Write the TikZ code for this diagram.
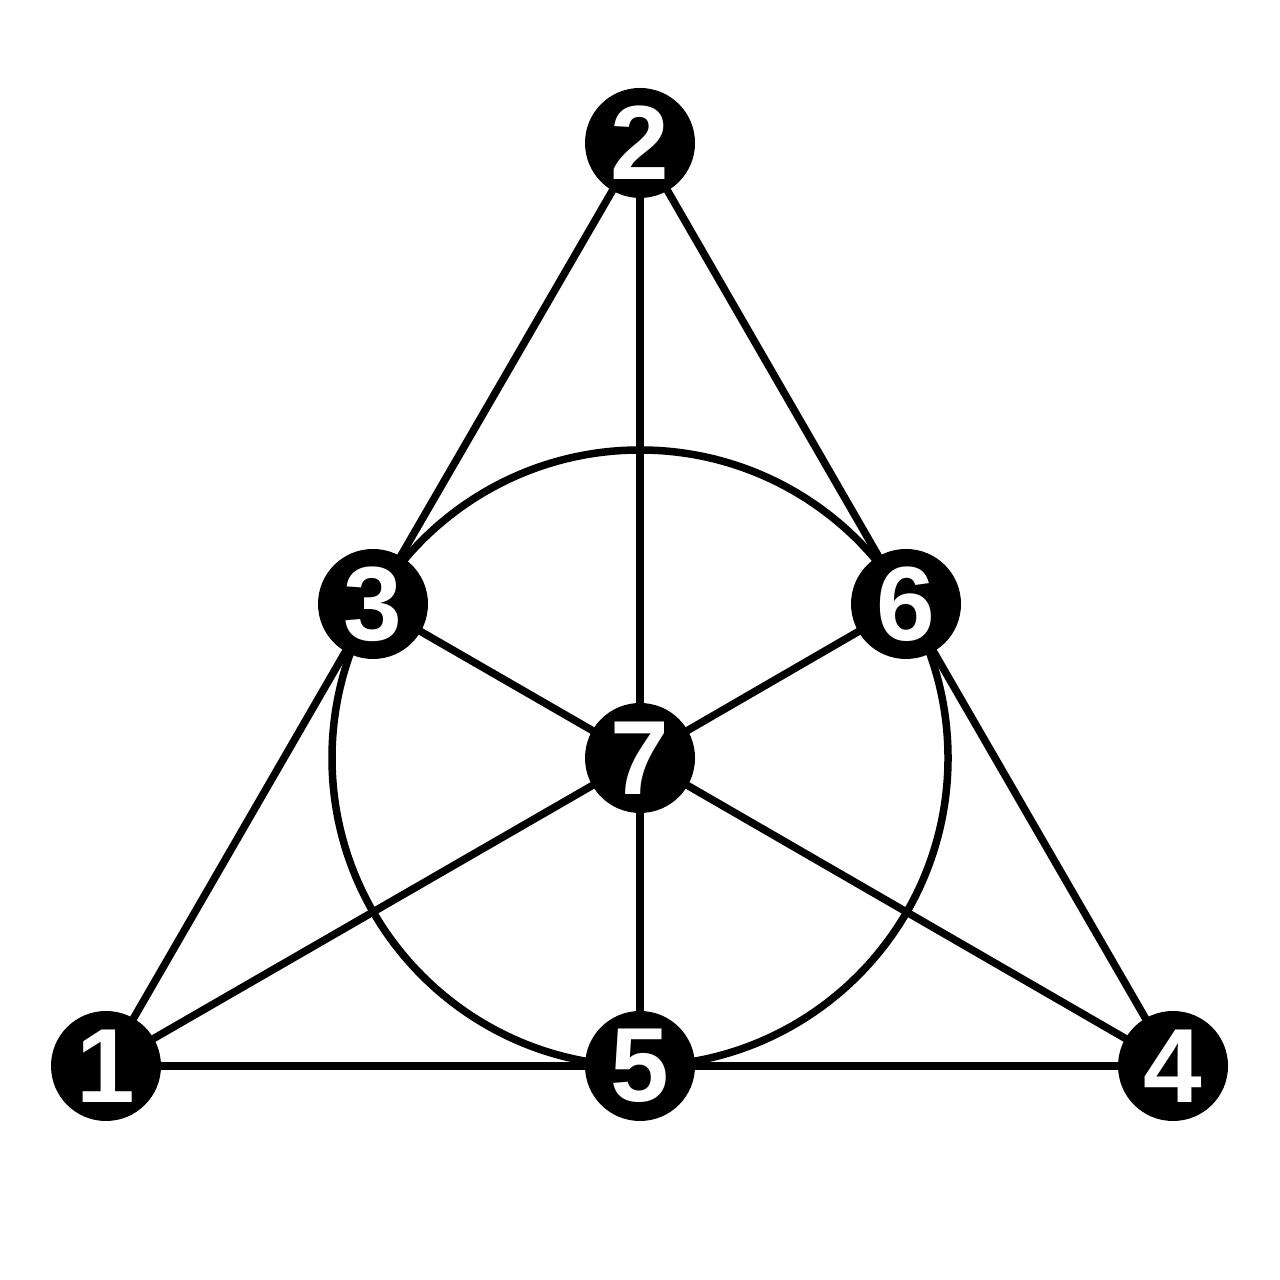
\documentclass[tikz,border=0pt]{standalone}
\usepackage{fontspec}
\setmainfont{Liberation Sans}
\usepackage{tikz}
\usetikzlibrary{backgrounds}

\tikzset{
  fanopt/.style={circle,fill=black,minimum size=1.1cm,inner sep=0pt,text=white,
    font=\bfseries\fontsize{30}{30}\selectfont},
  fanoline/.style={line width=0.075cm}
}

\begin{document}
\begin{tikzpicture}
\useasboundingbox (0,0) rectangle (12.8,12.8);
\node[fanopt] (p1) at (1.06,2.14) {1};
\node[fanopt] (p2) at (6.40,11.37) {2};
\node[fanopt] (p3) at (3.73,6.76) {3};
\node[fanopt] (p4) at (11.73,2.14) {4};
\node[fanopt] (p5) at (6.40,2.14) {5};
\node[fanopt] (p6) at (9.06,6.76) {6};
\node[fanopt] (p7) at (6.40,5.22) {7};
% lines of the plane
\begin{scope}[on background layer]
\draw[fanoline] (p1.center) -- (p3.center) -- (p2.center);
\draw[fanoline] (p2.center) -- (p6.center) -- (p4.center);
\draw[fanoline] (p1.center) -- (p5.center) -- (p4.center);
\draw[fanoline] (p1.center) -- (p7.center) -- (p6.center);
\draw[fanoline] (p4.center) -- (p7.center) -- (p3.center);
\draw[fanoline] (p2.center) -- (p7.center) -- (p5.center);
\draw[fanoline] (p7.center) circle (3.08);
\end{scope}
\end{tikzpicture}
\end{document}
